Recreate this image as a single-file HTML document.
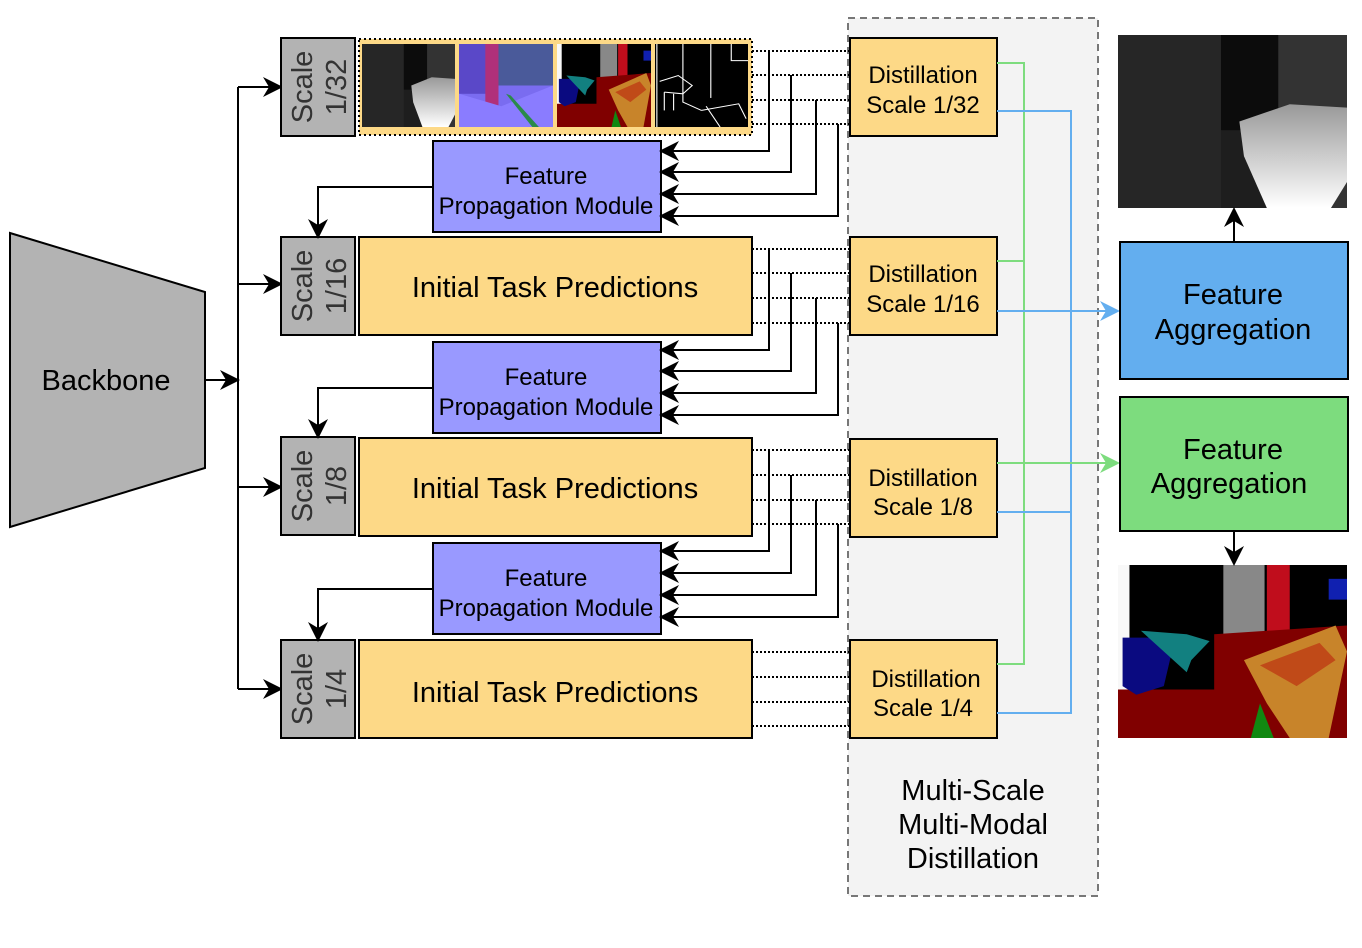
<!DOCTYPE html>
<html><head><meta charset="utf-8"><style>
html,body{margin:0;padding:0;background:#fff;}
svg{display:block;font-family:"Liberation Sans",Arial,sans-serif;}
</style></head><body>
<svg width="1362" height="948" viewBox="0 0 1362 948" xmlns="http://www.w3.org/2000/svg">
<defs>
<marker id="ab2" viewBox="0 0 10 10" refX="9" refY="5" markerWidth="20" markerHeight="20" markerUnits="userSpaceOnUse" orient="auto"><path d="M0,0 L10,5 L0,10 L3,5 Z" fill="#000"/></marker>
<marker id="ag" viewBox="0 0 10 10" refX="9" refY="5" markerWidth="20" markerHeight="20" markerUnits="userSpaceOnUse" orient="auto"><path d="M0,0 L10,5 L0,10 L3,5 Z" fill="#7ddc7e"/></marker>
<marker id="abl" viewBox="0 0 10 10" refX="9" refY="5" markerWidth="20" markerHeight="20" markerUnits="userSpaceOnUse" orient="auto"><path d="M0,0 L10,5 L0,10 L3,5 Z" fill="#63aeef"/></marker>
<linearGradient id="dg" x1="0" y1="0" x2="0" y2="1"><stop offset="0" stop-color="#999"/><stop offset="1" stop-color="#fff"/></linearGradient>
<symbol id="depth" viewBox="0 0 100 100" preserveAspectRatio="none">
<rect width="100" height="100" fill="#1e1e1e"/>
<rect x="0" y="0" width="45" height="100" fill="#262626"/>
<rect x="45" y="0" width="25" height="55" fill="#0c0c0c"/>
<rect x="70" y="0" width="30" height="100" fill="#333"/>
<polygon points="53,50 75,40 100,42 100,85 93,100 65,100 55,70" fill="url(#dg)"/>
</symbol>
<symbol id="seg" viewBox="0 0 100 100" preserveAspectRatio="none">
<rect width="100" height="100" fill="#000"/>
<rect x="0" y="0" width="5" height="100" fill="#f8f8f8"/>
<rect x="46" y="0" width="18" height="48" fill="#888"/>
<rect x="65" y="0" width="10" height="45" fill="#c00d1c"/>
<rect x="92" y="8" width="8" height="12" fill="#1020b0"/>
<polygon points="0,72 42,72 42,40 100,35 100,100 0,100" fill="#800000"/>
<polygon points="2,42 25,42 20,70 8,75 2,70" fill="#0a0a80"/>
<polygon points="10,38 30,40 40,44 32,55 30,62" fill="#128080"/>
<polygon points="55,55 95,35 100,50 92,100 75,100 65,80" fill="#c8842a"/>
<polygon points="62,58 88,45 95,55 78,70" fill="#c04a18"/>
<polygon points="62,80 68,100 58,100" fill="#118811"/>
</symbol>
<symbol id="normal" viewBox="0 0 100 100" preserveAspectRatio="none">
<rect width="100" height="100" fill="#7a6cf0"/>
<rect x="0" y="0" width="42" height="60" fill="#5a48c8"/>
<rect x="42" y="0" width="58" height="50" fill="#4a5a9a"/>
<rect x="28" y="0" width="14" height="75" fill="#b0307a"/>
<polygon points="0,60 45,75 100,50 100,100 0,100" fill="#8a7cff"/>
<polygon points="50,60 55,62 85,100 78,100" fill="#2a8a4a"/>
</symbol>
<symbol id="edge" viewBox="0 0 100 100" preserveAspectRatio="none">
<rect width="100" height="100" fill="#000"/>
<g fill="none" stroke="#fff" stroke-width="1.2">
<polyline points="2,100 2,0"/><polyline points="30,0 30,70 50,80"/>
<polyline points="50,80 90,72 98,90"/><polyline points="55,75 70,100"/>
<polyline points="5,45 25,38 40,50 30,60 10,58"/><polyline points="82,0 82,20 100,20"/>
<polyline points="60,0 60,65"/><polyline points="10,58 10,80"/><polyline points="20,60 20,80"/>
</g>
</symbol>
</defs>

<rect x="848" y="18" width="250" height="878" fill="#f3f3f3" stroke="#777" stroke-width="2" stroke-dasharray="7,5"/>

<polygon points="10,233 205,292 205,468 10,527" fill="#b3b3b3" stroke="#000" stroke-width="2"/>
<text x="106" y="390" font-size="29" text-anchor="middle">Backbone</text>
<line x1="205" y1="380" x2="238" y2="380" stroke="#000" stroke-width="2" marker-end="url(#ab2)"/>
<line x1="238" y1="87" x2="238" y2="689" stroke="#000" stroke-width="2"/>
<g stroke="#000" stroke-width="2" marker-end="url(#ab2)">
<line x1="238" y1="87" x2="281" y2="87"/>
<line x1="238" y1="284" x2="281" y2="284"/>
<line x1="238" y1="487" x2="281" y2="487"/>
<line x1="238" y1="689" x2="281" y2="689"/>
</g>

<g fill="#b3b3b3" stroke="#000" stroke-width="2">
<rect x="281" y="38" width="74" height="98"/>
<rect x="281" y="237" width="74" height="98"/>
<rect x="281" y="437" width="74" height="98"/>
<rect x="281" y="640" width="74" height="98"/>
</g>
<g font-size="29" fill="#333" text-anchor="middle">
<text transform="translate(312,87) rotate(-90)">Scale</text>
<text transform="translate(346,87) rotate(-90)">1/32</text>
<text transform="translate(312,286) rotate(-90)">Scale</text>
<text transform="translate(346,286) rotate(-90)">1/16</text>
<text transform="translate(312,486) rotate(-90)">Scale</text>
<text transform="translate(346,486) rotate(-90)">1/8</text>
<text transform="translate(312,689) rotate(-90)">Scale</text>
<text transform="translate(346,689) rotate(-90)">1/4</text>
</g>

<rect x="359" y="39" width="393" height="96" fill="#fdd987" stroke="#000" stroke-width="2" stroke-dasharray="2,3"/>
<use href="#depth" x="362" y="44" width="93" height="83"/>
<use href="#normal" x="459" y="44" width="94" height="83"/>
<use href="#seg" x="557" y="44" width="94" height="83"/>
<use href="#edge" x="655" y="44" width="93" height="83"/>

<g fill="#fdd987" stroke="#000" stroke-width="2">
<rect x="359" y="237" width="393" height="98"/>
<rect x="359" y="438" width="393" height="98"/>
<rect x="359" y="640" width="393" height="98"/>
</g>
<g font-size="29" text-anchor="middle">
<text x="555" y="297">Initial Task Predictions</text>
<text x="555" y="498">Initial Task Predictions</text>
<text x="555" y="702">Initial Task Predictions</text>
</g>

<g fill="#9999ff" stroke="#000" stroke-width="2">
<rect x="433" y="141" width="228" height="91"/>
<rect x="433" y="342" width="228" height="91"/>
<rect x="433" y="543" width="228" height="91"/>
</g>
<g font-size="24" text-anchor="middle">
<text x="546" y="184">Feature</text><text x="546" y="214">Propagation Module</text>
<text x="546" y="385">Feature</text><text x="546" y="415">Propagation Module</text>
<text x="546" y="586">Feature</text><text x="546" y="616">Propagation Module</text>
</g>
<g fill="none" stroke="#000" stroke-width="2" marker-end="url(#ab2)">
<polyline points="433,187 318,187 318,237"/>
<polyline points="433,388 318,388 318,437"/>
<polyline points="433,589 318,589 318,640"/>
</g>

<g stroke="#000" stroke-width="2" stroke-dasharray="2,2">
<line x1="752" y1="51" x2="850" y2="51"/><line x1="752" y1="75" x2="850" y2="75"/>
<line x1="752" y1="100" x2="850" y2="100"/><line x1="752" y1="124" x2="850" y2="124"/>
<line x1="752" y1="249" x2="850" y2="249"/><line x1="752" y1="273" x2="850" y2="273"/>
<line x1="752" y1="298" x2="850" y2="298"/><line x1="752" y1="323" x2="850" y2="323"/>
<line x1="752" y1="450" x2="850" y2="450"/><line x1="752" y1="475" x2="850" y2="475"/>
<line x1="752" y1="500" x2="850" y2="500"/><line x1="752" y1="524" x2="850" y2="524"/>
<line x1="752" y1="652" x2="850" y2="652"/><line x1="752" y1="677" x2="850" y2="677"/>
<line x1="752" y1="702" x2="850" y2="702"/><line x1="752" y1="726" x2="850" y2="726"/>
</g>
<g fill="none" stroke="#000" stroke-width="2" marker-end="url(#ab2)">
<polyline points="769,51 769,151 661,151"/>
<polyline points="791,75 791,172 661,172"/>
<polyline points="816,100 816,194 661,194"/>
<polyline points="838,124 838,216 661,216"/>
<polyline points="769,249 769,350 661,350"/>
<polyline points="791,273 791,371 661,371"/>
<polyline points="816,298 816,393 661,393"/>
<polyline points="838,323 838,415 661,415"/>
<polyline points="769,450 769,551 661,551"/>
<polyline points="791,475 791,573 661,573"/>
<polyline points="816,500 816,595 661,595"/>
<polyline points="838,524 838,617 661,617"/>
</g>

<g fill="#fdd987" stroke="#000" stroke-width="2">
<rect x="850" y="38" width="147" height="98"/>
<rect x="850" y="237" width="147" height="98"/>
<rect x="850" y="439" width="147" height="98"/>
<rect x="850" y="640" width="147" height="98"/>
</g>
<g font-size="24" text-anchor="middle">
<text x="923" y="83">Distillation</text><text x="923" y="113">Scale 1/32</text>
<text x="923" y="282">Distillation</text><text x="923" y="312">Scale 1/16</text>
<text x="923" y="486">Distillation</text><text x="923" y="515">Scale 1/8</text>
<text x="926" y="687">Distillation</text><text x="923" y="716">Scale 1/4</text>
</g>

<g fill="none" stroke="#7ddc7e" stroke-width="2">
<polyline points="997,63 1024,63 1024,664 997,664"/>
<line x1="997" y1="261" x2="1024" y2="261"/>
</g>
<g fill="none" stroke="#63aeef" stroke-width="2">
<polyline points="997,111 1071,111 1071,713 997,713"/>
<line x1="997" y1="512" x2="1071" y2="512"/>
</g>
<line x1="997" y1="311" x2="1118" y2="311" stroke="#63aeef" stroke-width="2" marker-end="url(#abl)"/>
<line x1="997" y1="463" x2="1118" y2="463" stroke="#7ddc7e" stroke-width="2" marker-end="url(#ag)"/>

<text font-size="29" text-anchor="middle"><tspan x="973" y="800">Multi-Scale</tspan><tspan x="973" y="834">Multi-Modal</tspan><tspan x="973" y="868">Distillation</tspan></text>

<rect x="1120" y="242" width="228" height="137" fill="#63aeef" stroke="#000" stroke-width="2"/>
<rect x="1120" y="397" width="228" height="134" fill="#7ddc7e" stroke="#000" stroke-width="2"/>
<g font-size="29" text-anchor="middle">
<text x="1233" y="304">Feature</text><text x="1233" y="339">Aggregation</text>
<text x="1233" y="459">Feature</text><text x="1229" y="493">Aggregation</text>
</g>
<use href="#depth" x="1118" y="35" width="229" height="173"/>
<use href="#seg" x="1118" y="565" width="229" height="173"/>
<line x1="1234" y1="242" x2="1234" y2="209" stroke="#000" stroke-width="2" marker-end="url(#ab2)"/>
<line x1="1234" y1="531" x2="1234" y2="564" stroke="#000" stroke-width="2" marker-end="url(#ab2)"/>
</svg>
</body></html>
